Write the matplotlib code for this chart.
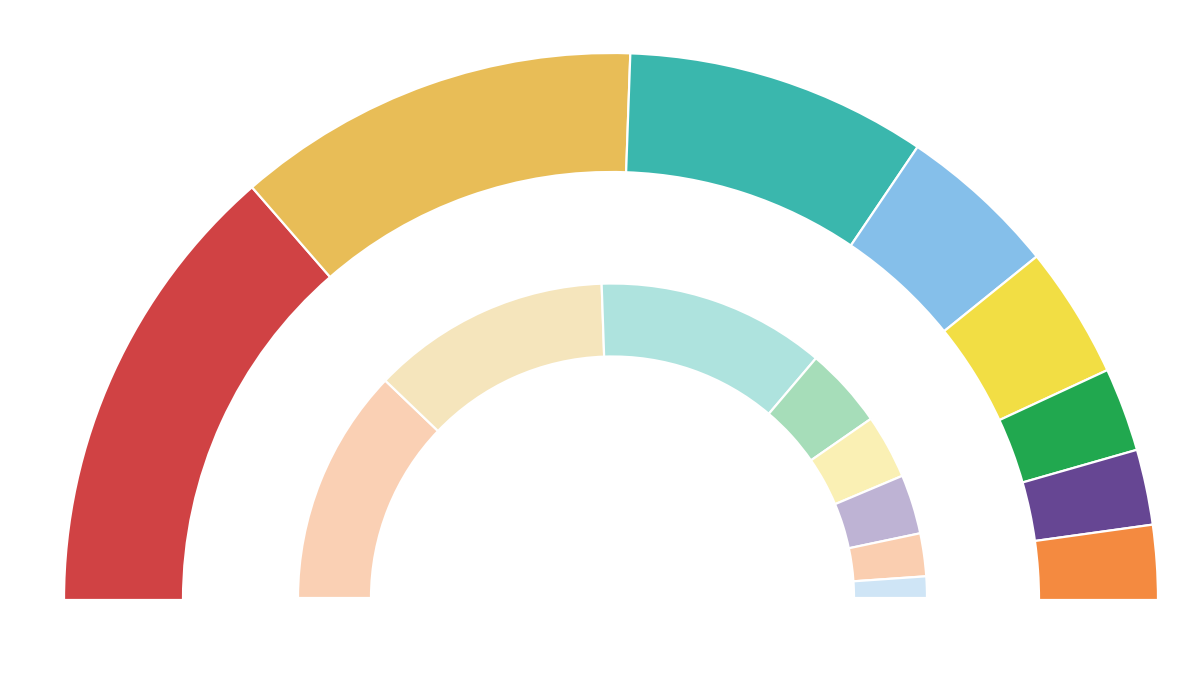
import matplotlib
matplotlib.use("Agg")
import matplotlib.pyplot as plt

# Outer ring (shares of a half circle)
outer_values = [27.2, 23.9, 17.8, 9.45, 7.8, 4.95, 4.45, 4.4]
outer_colors = ["#D04244", "#E8BD57", "#3AB7AD", "#85BFEA",
                "#F2DE44", "#21A84F", "#664693", "#F48A40"]

# Inner ring
inner_values = [24.3, 24.6, 23.5, 8.3, 6.6, 6.1, 4.4, 2.2]
inner_colors = ["#FAD0B4", "#F5E5BC", "#AEE3DE", "#A6DDB9",
                "#FAF0B4", "#BEB3D4", "#FACEB0", "#CFE5F6"]

W, H = 1200, 675
fig = plt.figure(figsize=(12, 6.75), dpi=100)
ax = fig.add_axes([0, 0, 1, 1])


def half_donut(values, colors, center, radius, width):
    total = sum(values)
    wedges, _ = ax.pie(values + [total], colors=colors + ["none"],
                       startangle=180, counterclock=False,
                       radius=radius, center=center, frame=True,
                       wedgeprops=dict(width=width, edgecolor="white",
                                       linewidth=1.6))
    wedges[-1].set_visible(False)


half_donut(outer_values, outer_colors, (611, H - 600), 547, 119)
half_donut(inner_values, inner_colors, (612.5, H - 598), 314.5, 73)

ax.set_xlim(0, W)
ax.set_ylim(0, H)
ax.set_aspect("auto")
ax.axis("off")

fig.savefig("out.png", dpi=100, facecolor="white")
